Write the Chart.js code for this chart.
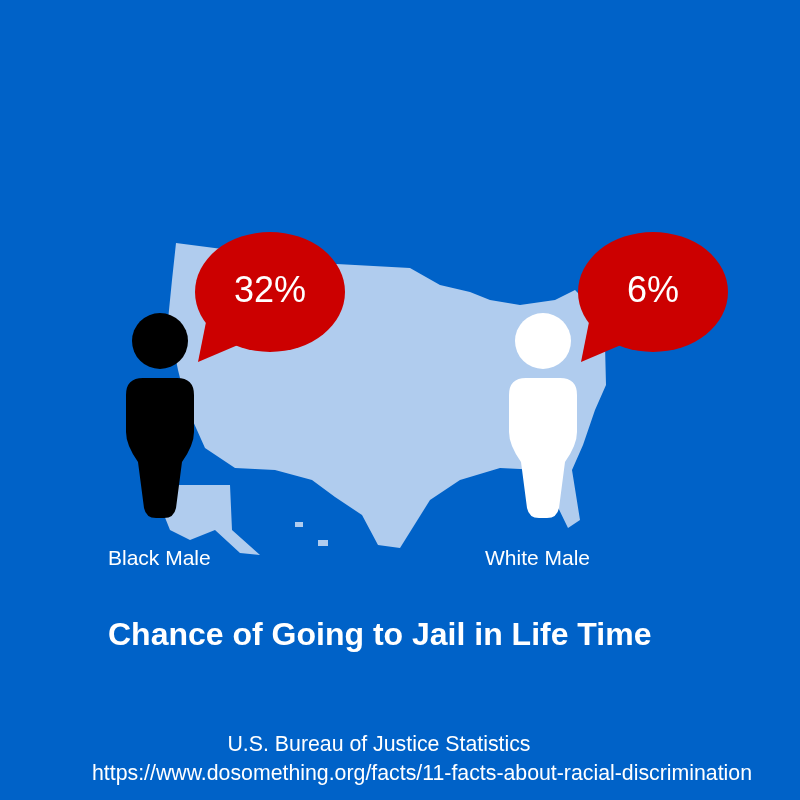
<!DOCTYPE html>
<html><head><meta charset="utf-8">
<script src="https://cdn.jsdelivr.net/npm/chart.js@4"></script>
<style>html,body{margin:0;padding:0;background:#0062C8;}#w{width:800px;height:800px;}</style>
</head><body><div id="w"><canvas id="c"></canvas></div>
<script>
const categories = ["Black Male", "White Male"];
const values = [32, 6];
const personColors = ["#000000", "#FFFFFF"];
const title = "Chance of Going to Jail in Life Time";
const sourceLines = ["U.S. Bureau of Justice Statistics", "https://www.dosomething.org/facts/11-facts-about-racial-discrimination"];

const F = "'Liberation Sans', Arial, sans-serif";
const mapPts=[[176,243],[230,250],[300,262],[410,268],[440,285],[470,292],[490,300],[520,305],[555,300],[575,290],[590,305],[592,330],[605,345],[606,385],[595,410],[583,445],[572,470],[580,520],[568,528],[552,495],[540,470],[500,468],[460,480],[430,500],[400,548],[378,545],[362,515],[335,497],[312,480],[275,470],[235,468],[205,448],[188,410],[178,370],[168,320],[172,280]];
const alaska=[[170,485],[230,485],[232,530],[260,555],[240,553],[215,530],[190,540],[170,530],[160,505]];
const deco={id:'deco',beforeDatasetsDraw(ch){
  const c=ch.ctx;c.save();c.fillStyle='#B0CCEE';
  for(const p of [mapPts,alaska]){c.beginPath();p.forEach((q,i)=>i?c.lineTo(q[0],q[1]):c.moveTo(q[0],q[1]));c.closePath();c.fill();}
  c.fillRect(295,522,8,5);c.fillRect(318,540,10,6);
  const xs=ch.scales.x;
  ch.data.datasets[0].data.forEach((d,i)=>{
    const x=xs.getPixelForValue(d.x);
    c.fillStyle=personColors[i];
    c.beginPath();c.arc(x,341,28,0,Math.PI*2);c.fill();
    c.beginPath();
    c.moveTo(x-34,395);c.quadraticCurveTo(x-34,378,x-17,378);c.lineTo(x+17,378);c.quadraticCurveTo(x+34,378,x+34,395);
    c.lineTo(x+34,432);c.quadraticCurveTo(x+34,445,x+22,462);c.lineTo(x+16,508);c.quadraticCurveTo(x+14,518,x+4,518);
    c.lineTo(x-4,518);c.quadraticCurveTo(x-14,518,x-16,508);c.lineTo(x-22,462);c.quadraticCurveTo(x-34,445,x-34,432);c.closePath();c.fill();
    const bx=x+110,by=292;
    c.fillStyle='#CC0000';c.beginPath();c.ellipse(bx,by,75,60,0,0,Math.PI*2);c.fill();
    c.beginPath();c.moveTo(bx-60,by+10);c.lineTo(x+38,362);c.lineTo(bx-25,by+50);c.closePath();c.fill();
    c.fillStyle='#fff';c.font='36px '+F;c.textAlign='center';c.textBaseline='middle';
    c.fillText(values[i]+'%',bx,by);
    c.font='21px '+F;c.textAlign='left';c.fillText(categories[i],x-(i?58:52),559);
  });
  c.font='bold 32px '+F;c.textAlign='left';c.fillText(title,108,636);
  c.font='21.3px '+F;c.textAlign='center';c.fillText(sourceLines[0],379,745);c.fillText(sourceLines[1],422,774);
  c.restore();
}};
new Chart(document.getElementById('c'),{type:'scatter',
 data:{datasets:[{data:categories.map((k,i)=>({x:i,y:values[i]})),pointRadius:0,showLine:false}]},
 options:{responsive:true,maintainAspectRatio:false,animation:false,layout:{padding:0},
  plugins:{legend:{display:false},tooltip:{enabled:false}},
  scales:{x:{type:'linear',display:false,min:-160/383,max:640/383},y:{display:false,min:0,max:40}}},
 plugins:[deco]});
</script></body></html>
